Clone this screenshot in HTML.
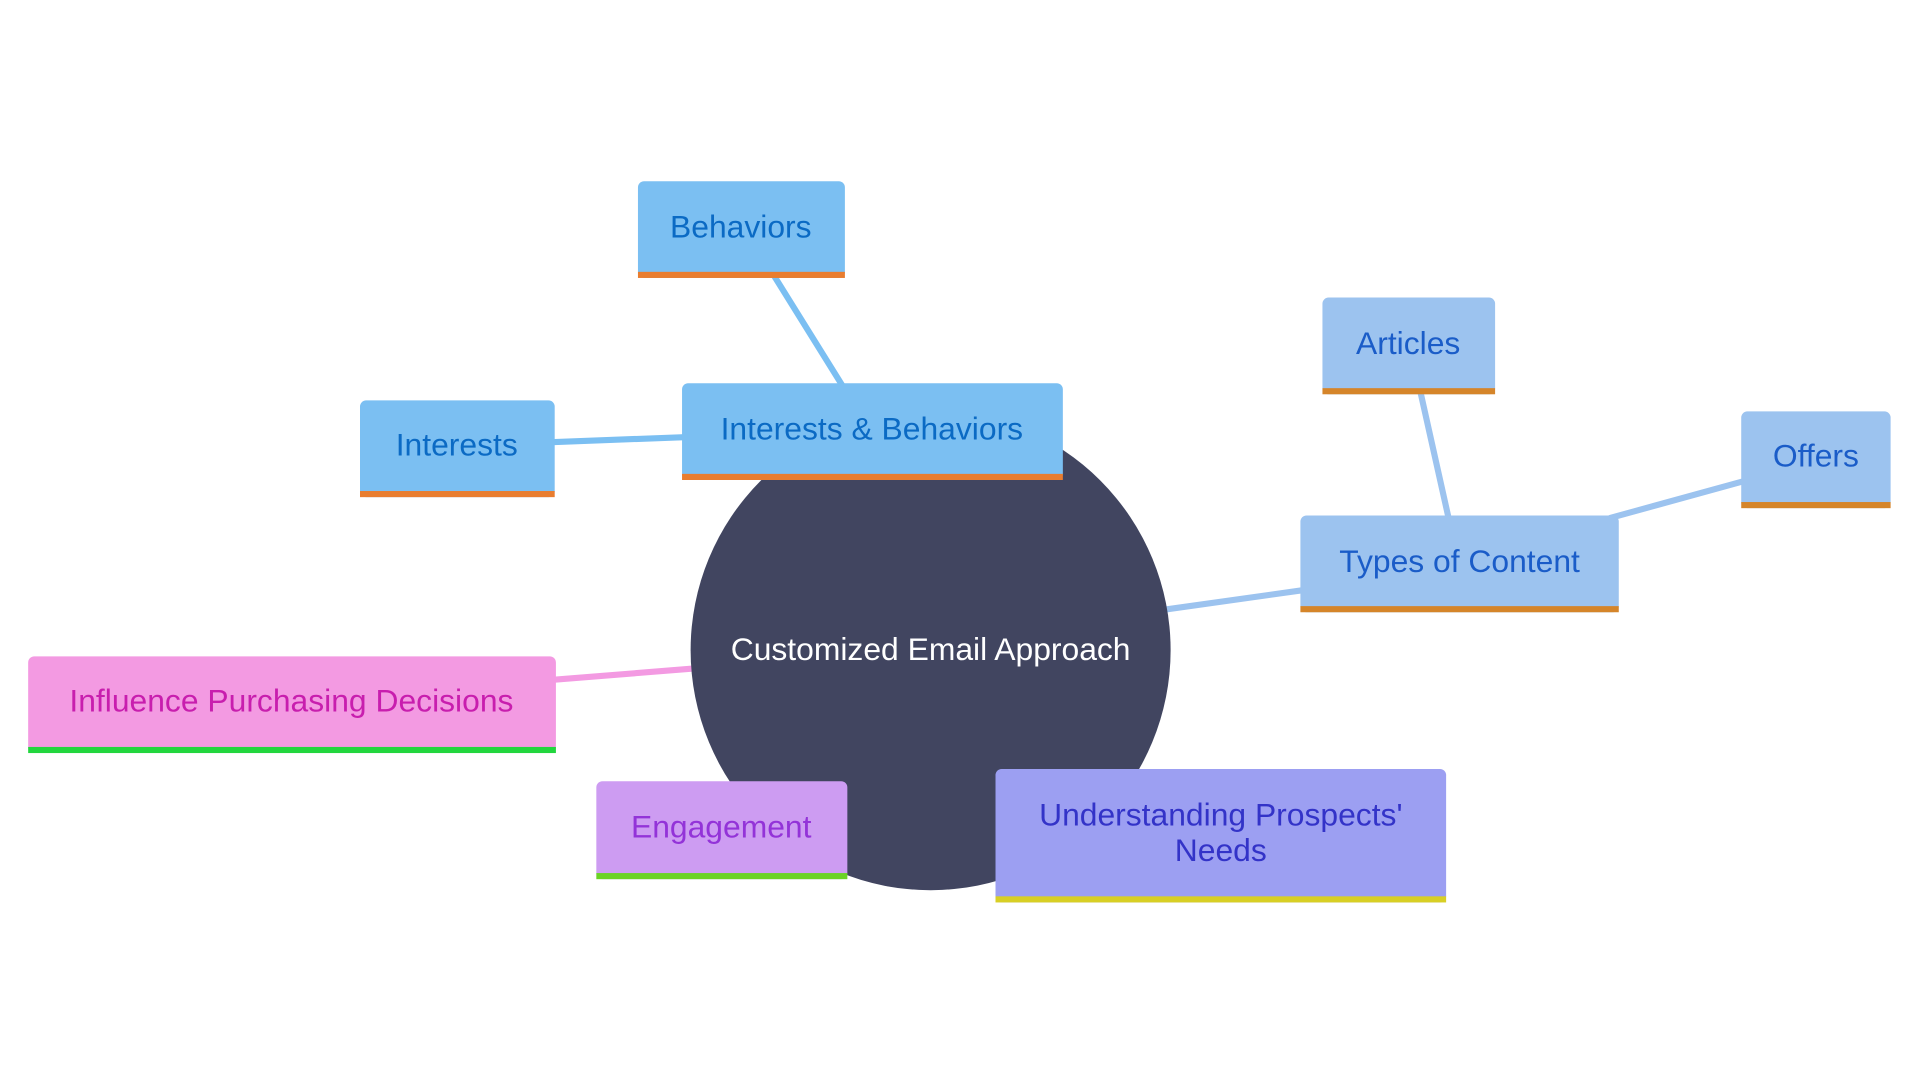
<!DOCTYPE html>
<html><head><style>html,body{margin:0;padding:0;background:#fff;}svg{display:block}text{font-family:"Liberation Sans",sans-serif;font-size:26px;text-anchor:middle;dominant-baseline:central}</style></head>
<body>
<svg width="1920" height="1080" viewBox="0 0 1568 882" xmlns="http://www.w3.org/2000/svg">
<g stroke-width="5" stroke-linecap="round">
<line x1="632" y1="225" x2="688" y2="315" stroke="#7bbff2"/>
<line x1="453" y1="361" x2="559" y2="357" stroke="#7bbff2"/>
<line x1="1160" y1="320" x2="1183" y2="423" stroke="#9cc3ef"/>
<line x1="1424" y1="393" x2="1315" y2="423" stroke="#9cc3ef"/>
<line x1="950" y1="498" x2="1064" y2="482" stroke="#9cc3ef"/>
<line x1="454" y1="555" x2="566" y2="546" stroke="#f39ae2"/>
</g>
<circle cx="760" cy="531" r="196" fill="#414560"/>
<text x="760" y="530" fill="#fff">Customized Email Approach</text>

<g>
<rect x="557" y="313" width="311" height="79" rx="5" fill="#7bbff2"/><rect x="557" y="387" width="311" height="5" fill="#e97d2f"/>
<text x="712" y="350" fill="#0b6ac4">Interests &amp; Behaviors</text>
<rect x="521" y="148" width="169" height="79" rx="5" fill="#7bbff2"/><rect x="521" y="222" width="169" height="5" fill="#e97d2f"/>
<text x="605" y="185" fill="#0b6ac4">Behaviors</text>
<rect x="294" y="327" width="159" height="79" rx="5" fill="#7bbff2"/><rect x="294" y="401" width="159" height="5" fill="#e97d2f"/>
<text x="373" y="363" fill="#0b6ac4">Interests</text>

<rect x="1062" y="421" width="260" height="79" rx="5" fill="#9cc3ef"/><rect x="1062" y="495" width="260" height="5" fill="#d5852a"/>
<text x="1192" y="458" fill="#1a5cc8">Types of Content</text>
<rect x="1080" y="243" width="141" height="79" rx="5" fill="#9cc3ef"/><rect x="1080" y="317" width="141" height="5" fill="#d5852a"/>
<text x="1150" y="280" fill="#1a5cc8">Articles</text>
<rect x="1422" y="336" width="122" height="79" rx="5" fill="#9cc3ef"/><rect x="1422" y="410" width="122" height="5" fill="#d5852a"/>
<text x="1483" y="372" fill="#1a5cc8">Offers</text>

<rect x="23" y="536" width="431" height="79" rx="5" fill="#f39ae2"/><rect x="23" y="610" width="431" height="5" fill="#22d63e"/>
<text x="238" y="572" fill="#c81eae">Influence Purchasing Decisions</text>

<rect x="487" y="638" width="205" height="80" rx="5" fill="#cd9cf2"/><rect x="487" y="713" width="205" height="5" fill="#6bd325"/>
<text x="589" y="675" fill="#9333d8">Engagement</text>

<rect x="813" y="628" width="368" height="109" rx="5" fill="#9c9ff2"/><rect x="813" y="732" width="368" height="5" fill="#d8cf25"/>
<text x="997" y="665" fill="#3333c8">Understanding Prospects'</text>
<text x="997" y="694" fill="#3333c8">Needs</text>
</g>
</svg>
</body></html>
